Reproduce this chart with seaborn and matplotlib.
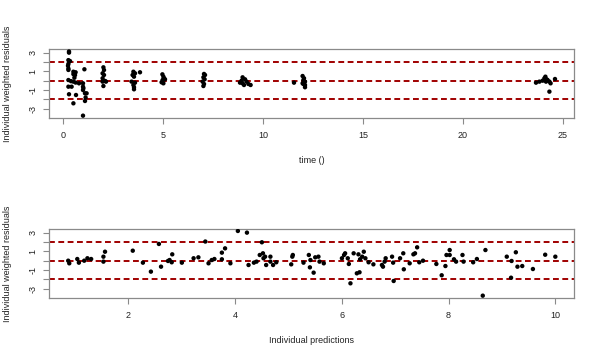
import matplotlib
matplotlib.use("Agg")
import matplotlib.pyplot as plt
import seaborn as sns
import numpy as np
import pandas as pd

# ---- data ----
time_vals = [
    0.30, 0.30, 0.27, 0.35, 0.27, 0.25, 0.27, 0.27,
    0.52, 0.63, 0.52, 0.60, 0.57, 1.07,
    0.27, 0.40, 0.52, 0.63, 0.80, 0.27, 0.43,
    1.00, 1.00, 1.02, 1.00, 1.10, 1.18, 0.30, 0.65, 1.13, 1.10, 0.52, 1.00,
    2.02, 2.05, 1.98, 2.05, 1.98, 2.10, 2.15, 1.98, 2.02,
    3.52, 3.60, 3.48, 3.55, 3.43, 3.60, 3.52, 3.55, 3.55, 3.85,
    4.97, 5.02, 5.05, 4.98, 5.10, 4.93, 5.02,
    7.05, 7.10, 7.02, 7.08, 6.98, 7.05, 7.02,
    8.98, 9.10, 8.85, 8.98, 9.18, 9.05, 9.27, 9.38, 8.93,
    11.55, 11.98, 12.05, 12.02, 12.10, 11.98, 12.10, 12.10, 12.02,
    23.65, 23.82, 23.98, 24.07, 24.12, 24.18, 24.15, 24.23, 24.32, 24.38, 24.60, 24.32,
]
time_res = [
    3.12, 3.00, 2.20, 2.10, 1.80, 1.60, 1.30, 1.15,
    0.96, 0.90, 0.70, 0.60, 0.32, 1.22,
    0.07, -0.05, -0.10, -0.20, -0.28, -0.64, -0.64,
    -0.28, -0.64, -0.80, -1.00, -1.35, -1.35, -1.45, -1.53, -1.80, -2.17, -2.42, -3.74,
    1.43, 1.14, 0.79, 0.61, 0.26, -0.03, -0.10, -0.10, -0.57,
    0.96, 0.79, 0.61, 0.43, -0.10, -0.21, -0.46, -0.70, -0.92, 0.90,
    0.68, 0.43, 0.26, 0.07, 0.15, -0.17, -0.28,
    0.72, 0.61, 0.36, 0.15, -0.10, -0.35, -0.57,
    0.36, 0.15, -0.21, -0.28, -0.10, -0.46, -0.35, -0.46, 0.00,
    -0.21, 0.50, 0.26, 0.07, -0.10, -0.28, -0.46, -0.70, -0.35,
    -0.21, -0.10, 0.00, 0.26, 0.43, 0.15, -0.10, 0.07, -0.10, -0.28, 0.18, -1.17,
]

pred_vals = [
    0.87, 0.89, 1.04, 1.07, 1.17, 1.23, 1.30, 1.53, 1.56, 1.53,
    2.08, 2.27, 2.42, 2.57, 2.61, 2.74, 2.77, 2.82, 2.81, 3.00, 3.22, 3.31,
    3.44, 3.50, 3.56, 3.61, 3.75, 3.81, 3.75, 3.91, 4.05, 4.22,
    4.25, 4.35, 4.40, 4.46, 4.50, 4.52, 4.53, 4.56, 4.58, 4.66, 4.66, 4.71, 4.77,
    5.05, 5.07, 5.08, 5.28, 5.38, 5.41, 5.40, 5.47, 5.50, 5.56, 5.58, 5.66,
    6.00, 6.04, 6.06, 6.11, 6.13, 6.16, 6.22, 6.28, 6.33, 6.31, 6.34, 6.38, 6.41,
    6.44, 6.50, 6.59, 6.75, 6.77, 6.80, 6.82, 6.94, 6.96, 6.97, 7.09,
    7.15, 7.16, 7.27, 7.34, 7.37, 7.41, 7.45, 7.52, 7.77, 7.87, 7.94, 7.96,
    8.02, 8.02, 8.10, 8.14, 8.26, 8.28, 8.46, 8.53, 8.64, 8.69,
    9.09, 9.18, 9.26, 9.29, 9.38, 9.17, 9.58, 9.81, 10.00,
]
pred_res = [
    0.00, -0.28, 0.18, -0.21, 0.00, 0.26, 0.18, 0.43, 0.96, -0.10,
    1.07, -0.21, -1.17, 1.79, -0.64, -0.03, 0.07, 0.68, -0.17, -0.21, 0.26, 0.36,
    2.05, -0.28, 0.07, 0.18, 0.86, 1.32, 0.15, -0.28, 3.18, 3.00,
    -0.46, -0.21, -0.10, 0.61, 1.97, 0.79, 0.26, 0.43, -0.46, 0.43, -0.10, -0.46, -0.17,
    -0.39, 0.43, 0.61, -0.21, 0.61, 0.07, -0.71, -1.28, 0.36, 0.43, -0.10, -0.28,
    0.26, 0.61, 0.79, 0.26, -0.35, -2.42, 0.79, -1.35, -1.24, 0.68, 0.15, 0.43, 0.96,
    0.26, -0.17, -0.39, -0.46, -0.64, -0.10, 0.26, 0.43, -0.21, -2.17, 0.26,
    0.79, -0.92, -0.28, 0.68, 0.79, 1.43, -0.17, 0.00, -0.35, -1.56, -0.57, 0.61,
    1.14, 0.61, 0.15, -0.10, 0.61, -0.10, -0.17, 0.18, -3.74, 1.14,
    0.43, -0.03, 0.90, -0.64, -0.57, -1.82, -0.89, 0.64, 0.43,
]

ref_lines = [-1.96, 0.0, 1.96]
y_ticks = [-3, -2, -1, 0, 1, 2, 3]
y_ticklabels = ["-3", "", "-1", "", "1", "", "3"]
top_xticks = [0, 5, 10, 15, 20, 25]
bot_xticks = [2, 4, 6, 8, 10]

df_time = pd.DataFrame({"x": time_vals, "y": time_res})
df_pred = pd.DataFrame({"x": pred_vals, "y": pred_res})

sns.set_style("white")
plt.rcParams["font.family"] = ["Liberation Sans", "DejaVu Sans"]

fig = plt.figure(figsize=(6, 3.6), dpi=100)
ax1 = fig.add_axes([49 / 600, 1 - 118 / 360, 525 / 600, 69 / 360])
ax2 = fig.add_axes([49 / 600, 1 - 298 / 360, 525 / 600, 69 / 360])

box_col = "#8a8a8a"
txt_col = "#222222"

panels = [
    (ax1, df_time, top_xticks, "time ()", (-0.70, 25.55)),
    (ax2, df_pred, bot_xticks, "Individual predictions", (0.51, 10.35)),
]
for ax, df, xt, xl, xlim in panels:
    sns.scatterplot(data=df, x="x", y="y", ax=ax, color="black", s=10,
                    edgecolor="none", linewidth=0, zorder=3)
    for v in ref_lines:
        ax.axhline(v, color="#a00000", lw=1.4, linestyle=(0, (3.0, 1.8)), zorder=2)
    ax.set_xlim(*xlim)
    ax.set_ylim(-3.99, 3.39)
    ax.set_yticks(y_ticks)
    ax.set_yticklabels(y_ticklabels, rotation=90, va="center")
    ax.set_xticks(xt)
    ax.set_xticklabels([str(t) for t in xt])
    ax.tick_params(axis="both", which="major", direction="out", length=4.3,
                   width=0.8, color=box_col, labelsize=6.5, labelcolor=txt_col,
                   bottom=True, left=True, top=False, right=False)
    ax.tick_params(axis="x", pad=5)
    ax.tick_params(axis="y", pad=4)
    for sp in ax.spines.values():
        sp.set_visible(True)
        sp.set_color(box_col)
        sp.set_linewidth(0.9)
    ax.set_xlabel(xl, fontsize=6.5, color=txt_col)
    ax.set_ylabel("Individual weighted residuals", fontsize=6.5, color=txt_col)
    ax.xaxis.set_label_coords(0.5, -0.55)
    ax.yaxis.set_label_coords(-0.07, 0.5)
    ax.grid(False)

fig.savefig("out.png", dpi=100, facecolor="white")
